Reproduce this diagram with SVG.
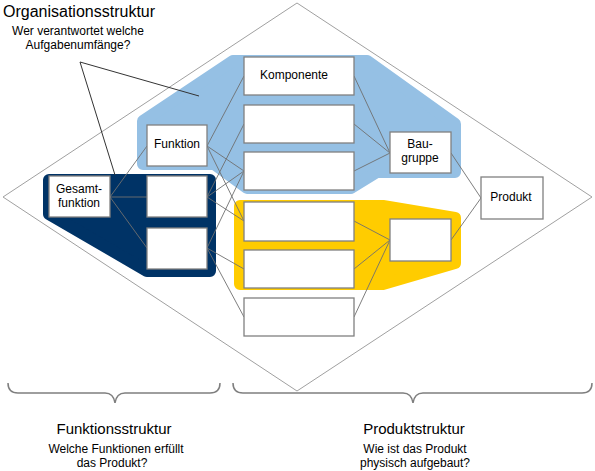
<svg xmlns="http://www.w3.org/2000/svg" width="595" height="471" viewBox="0 0 595 471">
<style>
text{font-family:"Liberation Sans",Arial,sans-serif;fill:#000;}
.lbl{font-size:12px;text-anchor:middle;}
.q{font-size:12px;text-anchor:middle;}
.h{font-size:15px;text-anchor:middle;}
.box{fill:#fff;stroke:#808080;stroke-width:1.3;}
.con{stroke:#6f6f6f;stroke-width:0.9;fill:none;}
.region{stroke-linejoin:round;stroke-width:12;}
.brace{fill:none;stroke:#7f7f7f;stroke-width:1.5;}
</style>
<rect width="595" height="471" fill="#fff"/>
<g id="diamond">
<polygon points="297,3 592,197 297,391 3,197" fill="none" stroke="#a0a0a0" stroke-width="1"/>
</g>
<g id="regions">
<polygon id="region-organisation" class="region" fill="#95c0e4" stroke="#95c0e4" points="233,61 367,61 455,124 455,172 377,172 351,188 247,188 214,164 143,164 143,121"/>
<polygon id="region-funktion" class="region" fill="#003366" stroke="#003366" points="49,180 210,180 210,271 147,271 49,214"/>
<polygon id="region-produkt" class="region" fill="#ffcc00" stroke="#ffcc00" points="240,206 383,206 455,218 455,263 383,284 240,284"/>
</g>
<g id="callout" stroke="#333" stroke-width="1" fill="none">
<line x1="80" y1="62" x2="199" y2="96"/>
<line x1="80" y1="62" x2="115" y2="175"/>
</g>
<g id="connectors" class="con">
<line x1="110" y1="197" x2="147" y2="146"/>
<line x1="110" y1="197" x2="147" y2="197"/>
<line x1="110" y1="197" x2="147" y2="248"/>
<line x1="207" y1="146" x2="244" y2="76"/>
<line x1="207" y1="146" x2="244" y2="171"/>
<line x1="207" y1="146" x2="244" y2="221"/>
<line x1="207" y1="197" x2="244" y2="124"/>
<line x1="207" y1="197" x2="244" y2="171"/>
<line x1="207" y1="197" x2="244" y2="221"/>
<line x1="207" y1="248" x2="244" y2="171"/>
<line x1="207" y1="248" x2="244" y2="269"/>
<line x1="207" y1="248" x2="244" y2="317"/>
<line x1="354" y1="76" x2="390" y2="153"/>
<line x1="354" y1="124" x2="390" y2="153"/>
<line x1="354" y1="171" x2="390" y2="153"/>
<line x1="354" y1="221" x2="390" y2="240"/>
<line x1="354" y1="269" x2="390" y2="240"/>
<line x1="354" y1="317" x2="390" y2="240"/>
<line x1="451" y1="153" x2="481" y2="198"/>
<line x1="451" y1="240" x2="481" y2="198"/>
</g>
<g id="gesamtfunktion"><rect class="box" x="49" y="176" width="61" height="41"/><text class="lbl" x="79" y="193">Gesamt-</text><text class="lbl" x="79" y="207">funktion</text></g>
<g id="funktion"><rect class="box" x="147" y="125" width="60" height="41"/><text class="lbl" x="177" y="148">Funktion</text></g>
<g id="funktion-a"><rect class="box" x="147" y="176" width="60" height="41"/></g>
<g id="funktion-b"><rect class="box" x="147" y="228" width="60" height="41"/></g>
<g id="komponente"><rect class="box" x="244" y="57" width="110" height="38"/><text class="lbl" x="294" y="79">Komponente</text></g>
<g id="komponente-2"><rect class="box" x="244" y="105" width="110" height="38"/></g>
<g id="komponente-3"><rect class="box" x="244" y="152" width="110" height="38"/></g>
<g id="komponente-4"><rect class="box" x="244" y="202" width="110" height="39"/></g>
<g id="komponente-5"><rect class="box" x="244" y="250" width="110" height="38"/></g>
<g id="komponente-6"><rect class="box" x="244" y="298" width="110" height="38"/></g>
<g id="baugruppe"><rect class="box" x="390" y="132" width="61" height="41"/><text class="lbl" x="420" y="148">Bau-</text><text class="lbl" x="420" y="162">gruppe</text></g>
<g id="baugruppe-2"><rect class="box" x="390" y="219" width="61" height="42"/></g>
<g id="produkt"><rect class="box" x="481" y="177" width="62" height="42"/><text class="lbl" x="511" y="201">Produkt</text></g>
<g id="labels">
<text x="3" y="17" font-size="16">Organisationsstruktur</text>
<text class="q" x="78" y="35">Wer verantwortet welche</text>
<text class="q" x="78" y="49">Aufgabenumfänge?</text>
<path class="brace" d="M8,383 C8,390 11,393 18,393 L105,393 C111,393 114,396 115,403 C116,396 119,393 125,393 L210,393 C217,393 220,390 220,383"/>
<path class="brace" d="M233,383 C233,390 236,393 243,393 L403,393 C409,393 412,396 413,403 C414,396 417,393 423,393 L582,393 C589,393 592,390 592,383"/>
<text class="h" x="114" y="434">Funktionsstruktur</text>
<text class="q" x="116" y="453">Welche Funktionen erfüllt</text>
<text class="q" x="112" y="467">das Produkt?</text>
<text class="h" x="414" y="434">Produktstruktur</text>
<text class="q" x="415" y="453">Wie ist das Produkt</text>
<text class="q" x="415" y="467">physisch aufgebaut?</text>
</g>
</svg>
